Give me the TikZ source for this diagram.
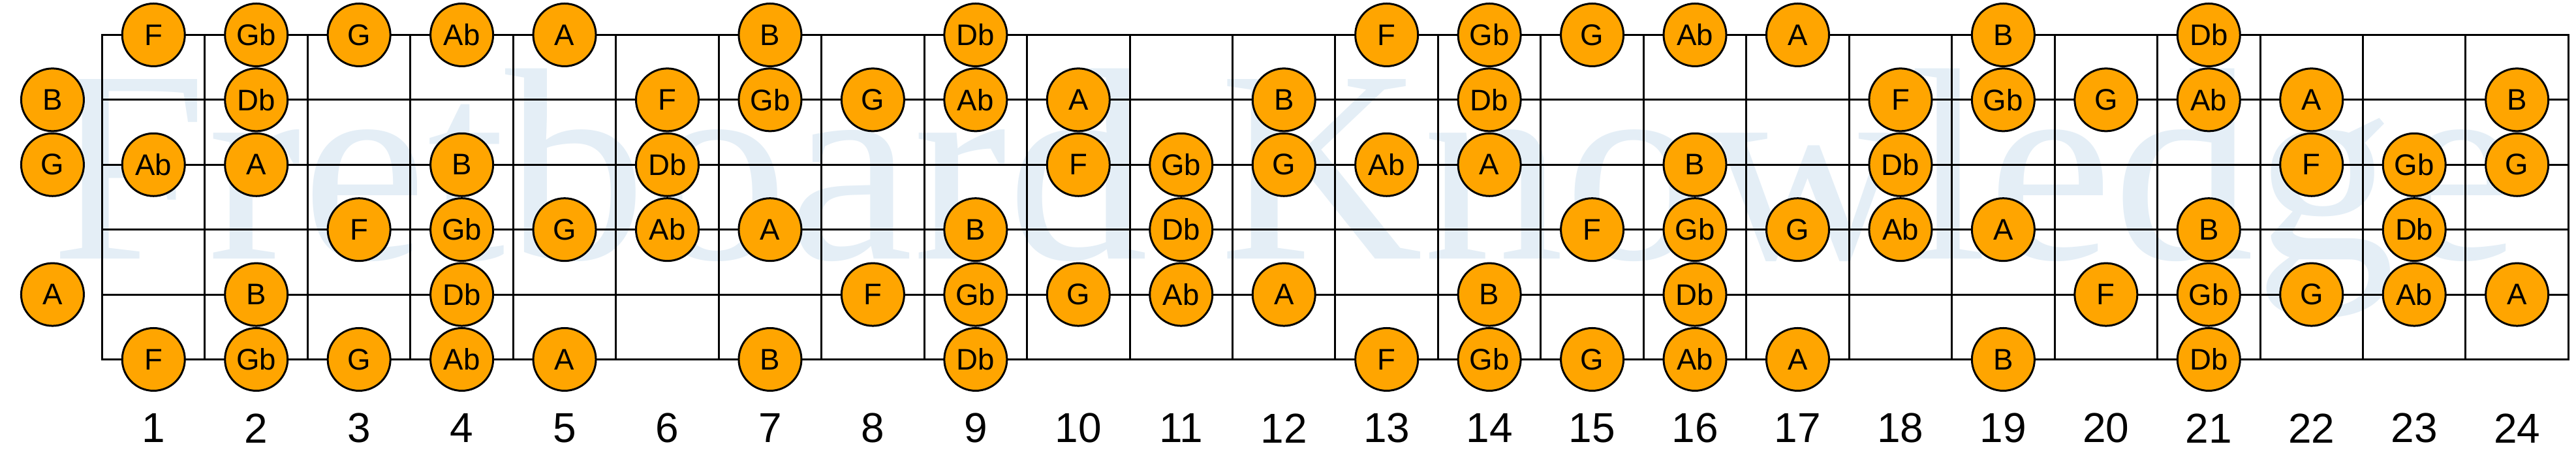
\documentclass[tikz,border=0pt]{standalone}
\usepackage{fontspec}
\setmainfont{Liberation Sans}
\newfontfamily\wmfont{Liberation Serif}
\usepackage{tikz}
\usetikzlibrary{positioning,calc}

\definecolor{noteorange}{RGB}{255,165,0}
\definecolor{wmblue}{RGB}{228,238,246}

\tikzset{
  notedot/.style={circle, draw=black, line width=3pt, fill=noteorange, inner sep=0pt,
    minimum size=96pt, font=\fontsize{45.6}{46}\selectfont},
  fretnum/.style={inner sep=0pt, font=\fontsize{64}{64}\selectfont},
  wmark/.style={anchor=base west, inner sep=0pt, text=wmblue, xscale=1.03,
    font=\wmfont\fontsize{420}{420}\selectfont},
  gridline/.style={line width=3pt, line cap=rect}
}

\begin{document}
\begin{tikzpicture}[x=157.45pt, y=99.4pt]
  \useasboundingbox (-0.994,-1.534) rectangle (24.074,5.538);
  % watermark
  \node[wmark] (wm) at (-0.50,1.554) {Fretboard Knowledge};
  % strings and frets
  \foreach \s in {0,...,5}{
    \draw[gridline] (0,\s) -- (24,\s);
  }
  \foreach \f in {0,...,24}{
    \draw[gridline] (\f,0) -- (\f,5);
  }
  % notes, string 0 = low E at the bottom
  \foreach \s/\notes in {
      0/{1/F,2/Gb,3/G,4/Ab,5/A,7/B,9/Db,13/F,14/Gb,15/G,16/Ab,17/A,19/B,21/Db},
      1/{0/A,2/B,4/Db,8/F,9/Gb,10/G,11/Ab,12/A,14/B,16/Db,20/F,21/Gb,22/G,23/Ab,24/A},
      2/{3/F,4/Gb,5/G,6/Ab,7/A,9/B,11/Db,15/F,16/Gb,17/G,18/Ab,19/A,21/B,23/Db},
      3/{0/G,1/Ab,2/A,4/B,6/Db,10/F,11/Gb,12/G,13/Ab,14/A,16/B,18/Db,22/F,23/Gb,24/G},
      4/{0/B,2/Db,6/F,7/Gb,8/G,9/Ab,10/A,12/B,14/Db,18/F,19/Gb,20/G,21/Ab,22/A,24/B},
      5/{1/F,2/Gb,3/G,4/Ab,5/A,7/B,9/Db,13/F,14/Gb,15/G,16/Ab,17/A,19/B,21/Db}}{
    \foreach \f/\n in \notes{
      \pgfmathsetmacro\xx{\f==0 ? -0.483 : \f-0.5}
      \node[notedot] (s\s f\f) at (\xx,\s) {\n};
    }
  }
  % fret numbers
  \foreach \f in {1,...,24}{
    \node[fretnum] (n\f) at (\f-0.5,-1.061) {\f};
  }
\end{tikzpicture}
\end{document}
